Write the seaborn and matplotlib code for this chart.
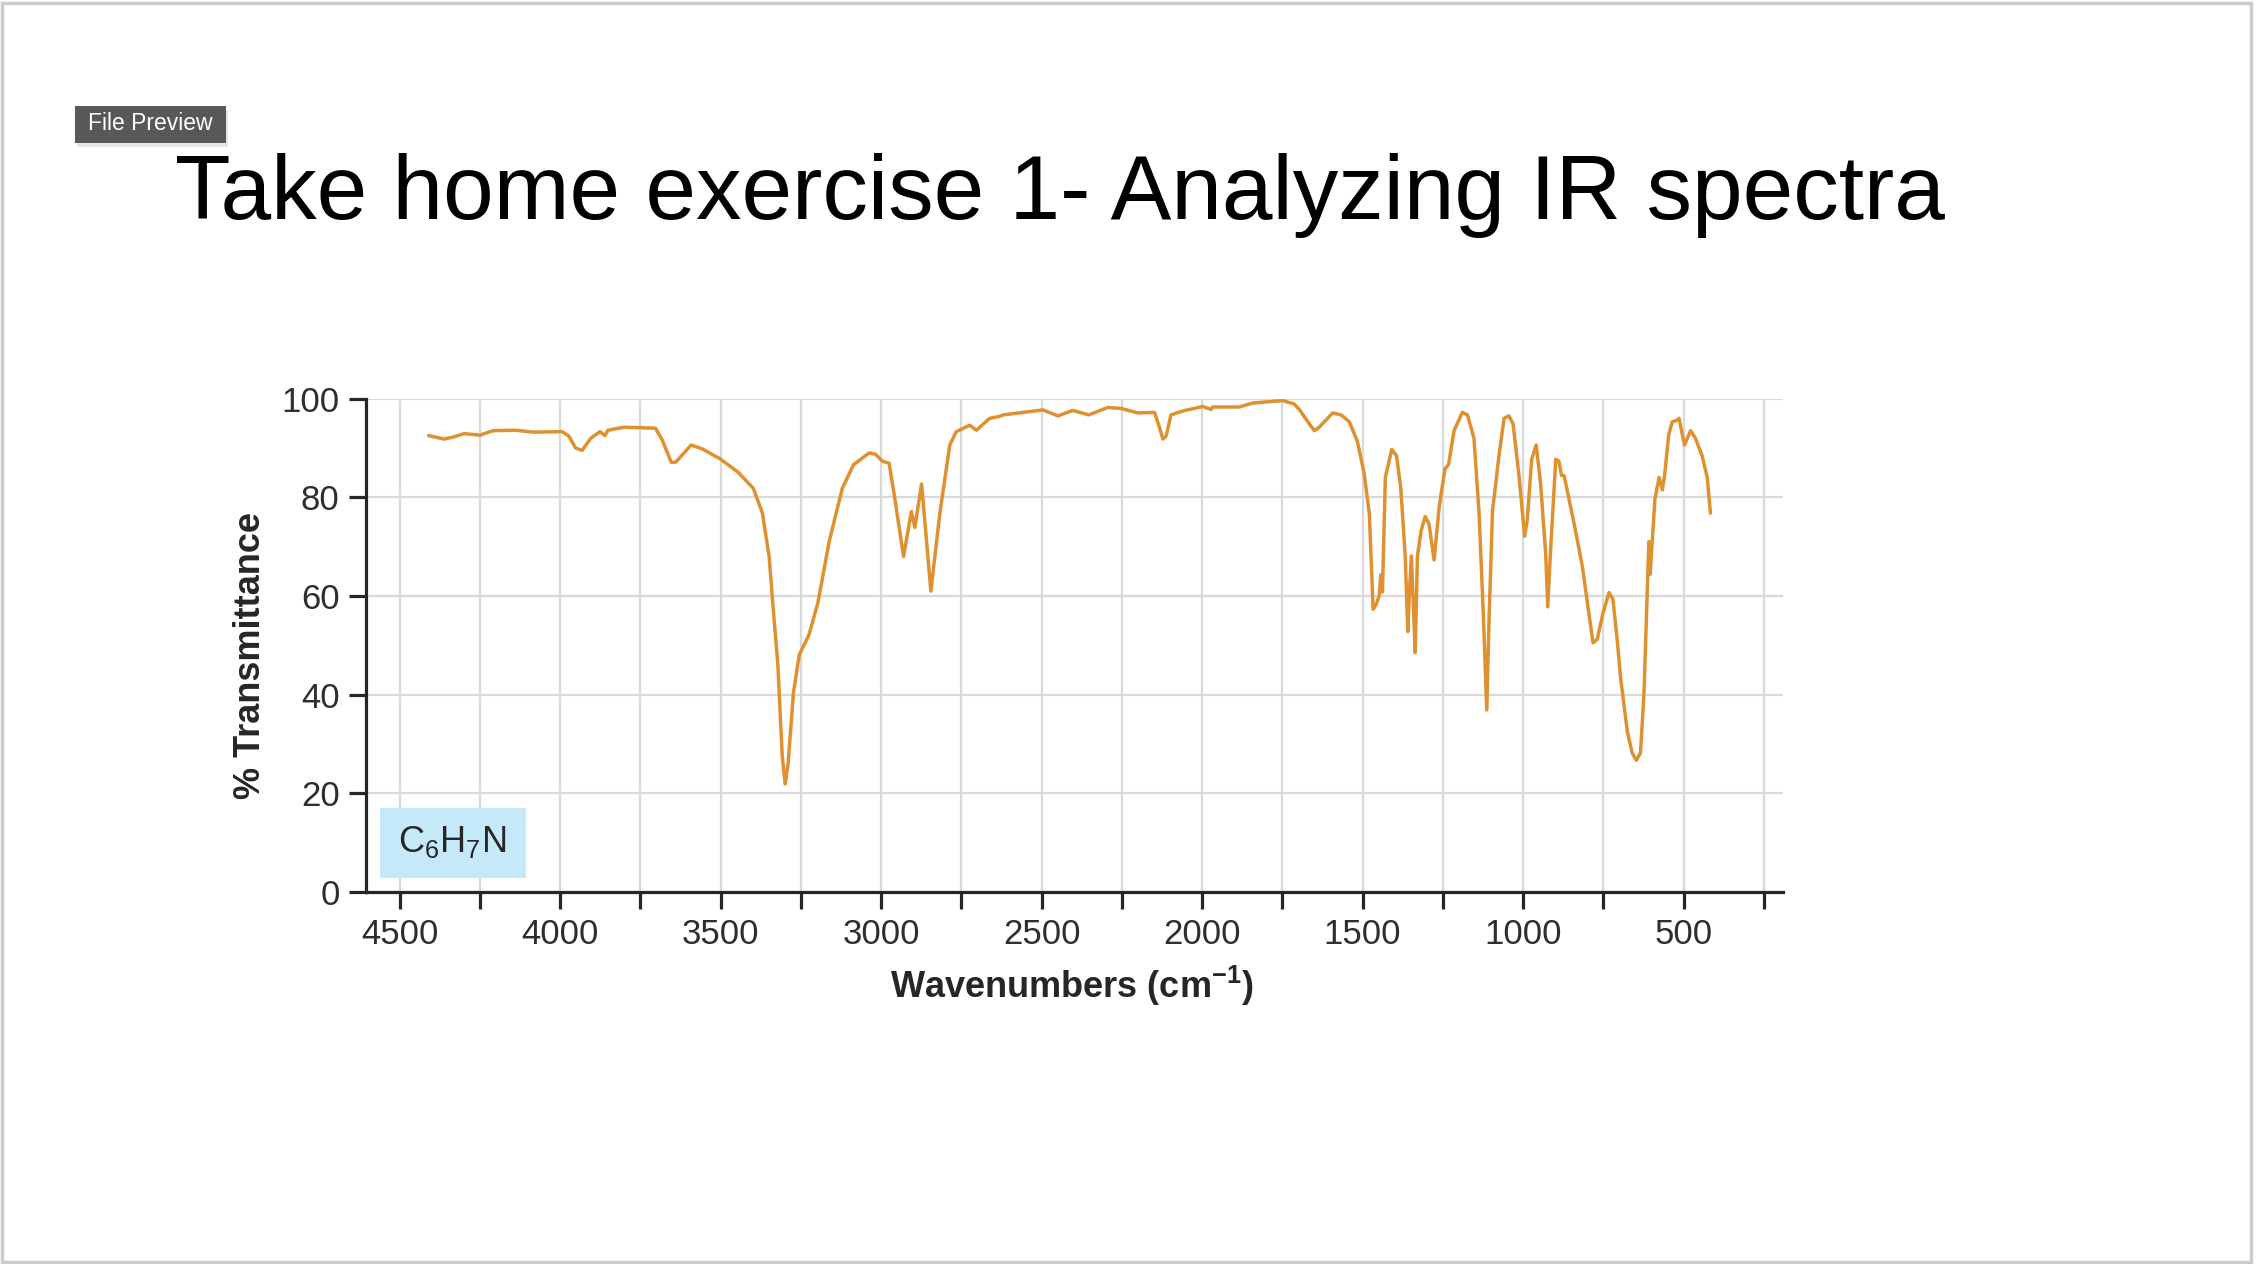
import matplotlib
matplotlib.use("Agg")
from matplotlib import pyplot as plt
from matplotlib.patches import Rectangle
import seaborn as sns
import numpy as np

# IR spectrum (wavenumber in cm-1, % transmittance)
wavenumbers = [
    4410, 4361, 4334, 4299, 4250, 4209, 4140, 4084, 3994, 3973, 3952, 3932,
    3904, 3876, 3860, 3851, 3800, 3703, 3682, 3654, 3640, 3592, 3557, 3502,
    3446, 3398, 3370, 3349, 3335, 3322, 3308, 3299, 3290, 3273, 3255, 3225,
    3197, 3162, 3121, 3086, 3037, 3017, 2996, 2975, 2958, 2930, 2906, 2895,
    2874, 2845, 2817, 2786, 2766, 2724, 2703, 2662, 2631, 2620, 2496, 2449,
    2403, 2353, 2294, 2252, 2200, 2148, 2133, 2122, 2112, 2097, 2060, 1998,
    1972, 1967, 1884, 1842, 1749, 1713, 1697, 1666, 1650, 1635, 1593, 1567,
    1541, 1516, 1495, 1479, 1467, 1456, 1448, 1443, 1438, 1429, 1409, 1394,
    1381, 1367, 1359, 1355, 1348, 1342, 1336, 1329, 1318, 1305, 1293, 1277,
    1261, 1243, 1232, 1215, 1189, 1173, 1153, 1137, 1123, 1113, 1106, 1095,
    1090, 1075, 1059, 1044, 1031, 1012, 995, 987, 973, 959, 945, 929,
    923, 914, 898, 888, 880, 872, 857, 836, 815, 795, 782, 769,
    751, 732, 720, 706, 696, 675, 660, 647, 634, 623, 613, 608,
    604, 599, 589, 576, 566, 559, 546, 535, 520, 514, 497, 478,
    463, 442, 426, 416,
]
transmittance = [
    92.5, 91.8, 92.2, 92.9, 92.6, 93.5, 93.6, 93.2, 93.3, 92.4, 90.0, 89.5,
    92.0, 93.3, 92.5, 93.6, 94.2, 94.0, 91.6, 87.1, 87.1, 90.6, 89.8, 87.8,
    85.1, 81.8, 76.8, 68.0, 56.4, 46.3, 27.4, 21.9, 25.9, 40.5, 48.1, 52.1,
    58.6, 71.0, 81.8, 86.6, 89.0, 88.7, 87.3, 86.9, 80.0, 68.0, 77.1, 73.9,
    82.7, 61.0, 76.8, 90.6, 93.3, 94.6, 93.6, 96.0, 96.4, 96.7, 97.7, 96.5,
    97.6, 96.7, 98.2, 98.0, 97.1, 97.2, 94.2, 91.8, 92.4, 96.7, 97.5, 98.4,
    97.8, 98.3, 98.3, 99.1, 99.6, 98.9, 97.8, 94.9, 93.5, 94.2, 97.1, 96.7,
    95.3, 91.3, 84.8, 76.8, 57.3, 58.5, 60.1, 64.3, 60.8, 84.0, 89.7, 88.4,
    81.9, 68.1, 52.8, 59.4, 68.1, 58.6, 48.5, 68.1, 73.1, 76.1, 74.6, 67.3,
    78.2, 85.8, 86.6, 93.5, 97.2, 96.7, 92.0, 76.8, 55.0, 36.9, 55.0, 77.5,
    80.0, 88.4, 96.0, 96.5, 94.9, 84.0, 72.1, 75.3, 87.7, 90.6, 82.6, 68.1,
    57.8, 69.5, 87.7, 87.3, 84.4, 84.4, 79.7, 73.1, 65.9, 56.5, 50.5, 51.2,
    56.5, 60.7, 59.4, 50.7, 43.4, 32.5, 28.2, 26.7, 28.2, 40.5, 60.8, 71.0,
    64.4, 69.5, 79.7, 84.0, 81.5, 84.4, 92.7, 95.3, 95.6, 96.0, 90.6, 93.5,
    92.0, 88.4, 84.0, 76.8,
]

labeled_ticks = [4500, 4000, 3500, 3000, 2500, 2000, 1500, 1000, 500]
between_ticks = [4250, 3750, 3250, 2750, 2250, 1750, 1250, 750, 250]
y_ticks = [0, 20, 40, 60, 80, 100]

title = "Take home exercise 1- Analyzing IR spectra"
formula = r"C$_6$H$_7$N"

sns.set_theme(style="white")
plt.rcParams["font.family"] = ["Liberation Sans", "DejaVu Sans"]
plt.rcParams["mathtext.fontset"] = "custom"
plt.rcParams["mathtext.rm"] = "Liberation Sans"
plt.rcParams["mathtext.default"] = "regular"

line_color = "#e0912f"
ink = "#262626"

fig = plt.figure(figsize=(22.56, 12.64), dpi=100)
fig.patch.set_facecolor("white")

# slide frame
fig.patches.append(Rectangle((2 / 2256, 2 / 1264), 2249 / 2256, 1259 / 1264,
                             transform=fig.transFigure, fill=False,
                             ec="#cbcbd0", lw=2.5))

# "File Preview" tooltip
fig.patches.append(Rectangle((77 / 2256, 1 - 147 / 1264), 151 / 2256, 37 / 1264,
                             transform=fig.transFigure, fc="#e6e6e6", ec="none"))
fig.patches.append(Rectangle((75 / 2256, 1 - 143 / 1264), 151 / 2256, 37 / 1264,
                             transform=fig.transFigure, fc="#58585a", ec="none"))
fig.text(150 / 2256, 1 - 124 / 1264, "File Preview", color="white",
         fontsize=16.5, ha="center", va="center")

fig.text(175 / 2256, 1 - 219 / 1264, title, fontsize=65.5, color="black",
         ha="left", va="baseline")

ax = fig.add_axes([366 / 2256, 1 - 892 / 1264, 1417 / 2256, 493.4 / 1264])

sns.lineplot(x=wavenumbers, y=transmittance, ax=ax, sort=False,
             estimator=None, color=line_color, lw=2.5, zorder=4)
for ln in ax.get_lines():
    ln.set_solid_joinstyle("round")
    ln.set_solid_capstyle("round")

ax.set_xlim(4605, 190)
ax.set_ylim(0, 100)

ax.set_xticks(labeled_ticks)
ax.set_xticks(between_ticks, minor=True)
ax.set_yticks(y_ticks)
ax.grid(which="both", color="#d9d9d9", lw=1.6, zorder=0)
ax.set_axisbelow(True)

for side in ["top", "right"]:
    ax.spines[side].set_visible(False)
for side in ["left", "bottom"]:
    ax.spines[side].set_color(ink)
    ax.spines[side].set_linewidth(2.3)
    ax.spines[side].set_zorder(5)

ax.tick_params(which="both", direction="out", length=12, width=2.3,
               color=ink, labelsize=25, labelcolor="#2e2e2e", pad=7,
               bottom=True, left=True)

ax.set_ylabel("% Transmittance", fontsize=26, fontweight="bold", color=ink)
ax.yaxis.set_label_coords(-0.069, 0.48)
ax.set_xlabel(r"Wavenumbers (cm$^{-1}$)", fontsize=26, fontweight="bold", color=ink)
ax.xaxis.set_label_coords(0.498, -0.145)

# formula tag
ax.add_patch(Rectangle((0.0099, 0.028), 0.103, 0.143, transform=ax.transAxes,
                       fc="#c6e9f9", ec="none", zorder=3))
ax.text(0.0607, 0.101, formula, transform=ax.transAxes, fontsize=26,
        color=ink, ha="center", va="center", zorder=6)

fig.savefig("out.png", dpi=100, facecolor="white")
